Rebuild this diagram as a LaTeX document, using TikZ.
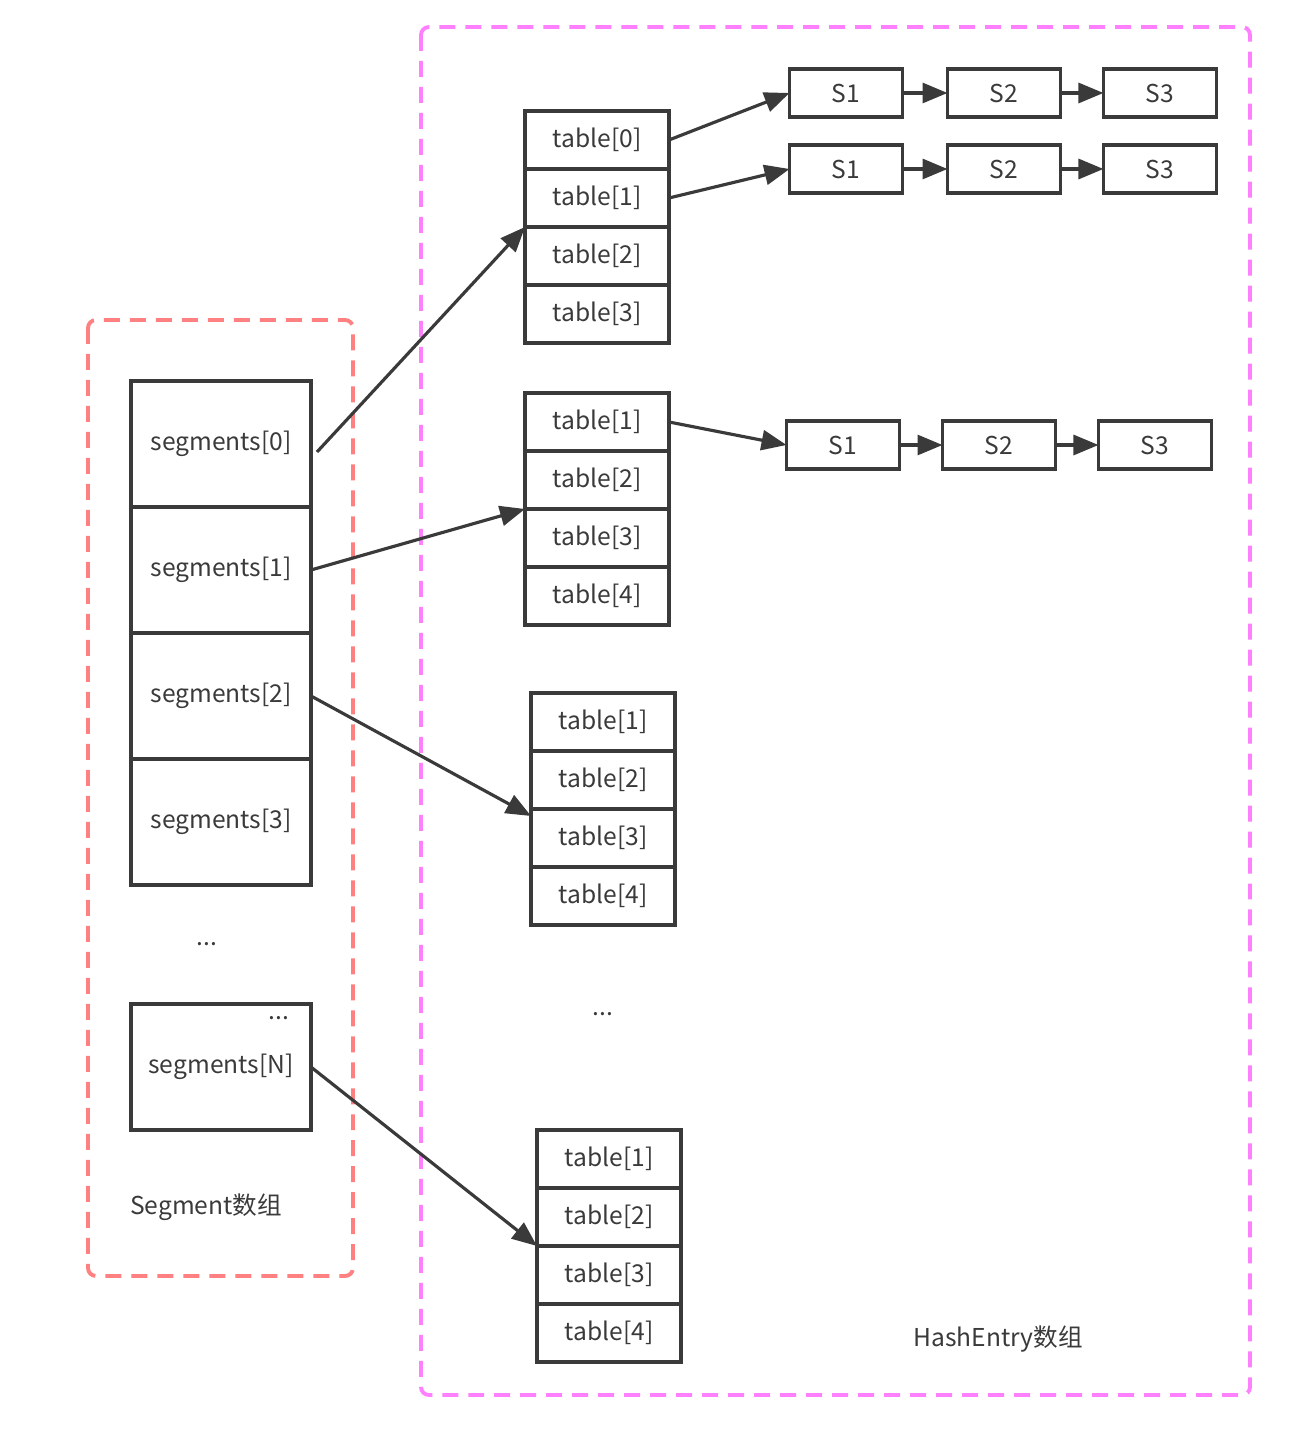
\documentclass[tikz,border=0pt]{standalone}
\usepackage{fontspec}
\setmainfont{Noto Sans CJK SC}
\usepackage{tikz}
\usetikzlibrary{arrows.meta,positioning,calc}
\usepackage{xcolor}
\definecolor{dfgray}{RGB}{58,58,58}
\definecolor{dfred}{RGB}{255,128,128}
\definecolor{dfpink}{RGB}{255,128,255}
\tikzstyle{segbox} = [rectangle, draw=dfgray, line width=2pt, minimum width=3.6cm, minimum height=2.52cm, inner sep=0pt, outer sep=0pt, text=dfgray]
\tikzstyle{tabbox} = [rectangle, draw=dfgray, line width=2pt, minimum width=2.88cm, minimum height=1.16cm, inner sep=0pt, outer sep=0pt, text=dfgray]
\tikzstyle{entry} = [rectangle, draw=dfgray, line width=2pt, minimum width=2.26cm, minimum height=0.96cm, inner sep=0pt, outer sep=0pt, text=dfgray]
\tikzstyle{arrow} = [line width=1.8pt, -{Triangle[length=0.5cm,width=0.4cm]}, color=dfgray]
\tikzstyle{group} = [line width=2.2pt, dash pattern=on 0.32cm off 0.2cm, rounded corners=0.16cm]

\begin{document}
\begin{tikzpicture}[x=0.02cm, y=-0.02cm, font=\fontsize{14}{16}\selectfont]
\useasboundingbox (0,0) rectangle (1296,1442);

\draw[group, dfred] (88,320) rectangle (353,1276);
\draw[group, dfpink] (421,27) rectangle (1250,1395);

\node[segbox] (s0) at (221,444) {segments[0]};
\node[segbox, below=0pt of s0] (s1) {segments[1]};
\node[segbox, below=0pt of s1] (s2) {segments[2]};
\node[segbox, below=0pt of s2] (s3) {segments[3]};
\node[text=dfgray] (sdots) at (207,944) {...};
\node[segbox] (sN) at (221,1067) {segments[N]};
\node[text=dfgray] (ndots) at (279,1018) {...};
\node[text=dfgray] (slabel) at (206,1207) {Segment数组};

\node[tabbox] (a0) at (597,140) {table[0]};
\node[tabbox, below=0pt of a0] (a1) {table[1]};
\node[tabbox, below=0pt of a1] (a2) {table[2]};
\node[tabbox, below=0pt of a2] (a3) {table[3]};

\node[tabbox] (b0) at (597,422) {table[1]};
\node[tabbox, below=0pt of b0] (b1) {table[2]};
\node[tabbox, below=0pt of b1] (b2) {table[3]};
\node[tabbox, below=0pt of b2] (b3) {table[4]};

\node[tabbox] (c0) at (603,722) {table[1]};
\node[tabbox, below=0pt of c0] (c1) {table[2]};
\node[tabbox, below=0pt of c1] (c2) {table[3]};
\node[tabbox, below=0pt of c2] (c3) {table[4]};

\node[text=dfgray] (tdots) at (603,1014) {...};

\node[tabbox] (d0) at (609,1159) {table[1]};
\node[tabbox, below=0pt of d0] (d1) {table[2]};
\node[tabbox, below=0pt of d1] (d2) {table[3]};
\node[tabbox, below=0pt of d2] (d3) {table[4]};

\node[text=dfgray] (hlabel) at (998,1339) {HashEntry数组};

\node[entry] (p1) at (846,93) {S1};
\node[entry, right=0.9cm of p1] (p2) {S2};
\node[entry, right=0.86cm of p2] (p3) {S3};

\node[entry] (q1) at (846,169) {S1};
\node[entry, right=0.9cm of q1] (q2) {S2};
\node[entry, right=0.86cm of q2] (q3) {S3};

\node[entry] (r1) at (843,445) {S1};
\node[entry, right=0.86cm of r1] (r2) {S2};
\node[entry, right=0.86cm of r2] (r3) {S3};

\draw[arrow] ($(s0.east)+(6,8)$) -- (a1.south west);
\draw[arrow] (s1.east) -- (b1.south west);
\draw[arrow] (s2.east) -- ($(c2.north west)+(0,7)$);
\draw[arrow] (sN.east) -- (d2.north west);

\draw[arrow] (a0.east) -- (p1.west);
\draw[arrow] (a1.east) -- (q1.west);
\draw[arrow] (b0.east) -- (r1.west);

\draw[arrow] (p1) -- (p2);
\draw[arrow] (p2) -- (p3);
\draw[arrow] (q1) -- (q2);
\draw[arrow] (q2) -- (q3);
\draw[arrow] (r1) -- (r2);
\draw[arrow] (r2) -- (r3);
\end{tikzpicture}
\end{document}
